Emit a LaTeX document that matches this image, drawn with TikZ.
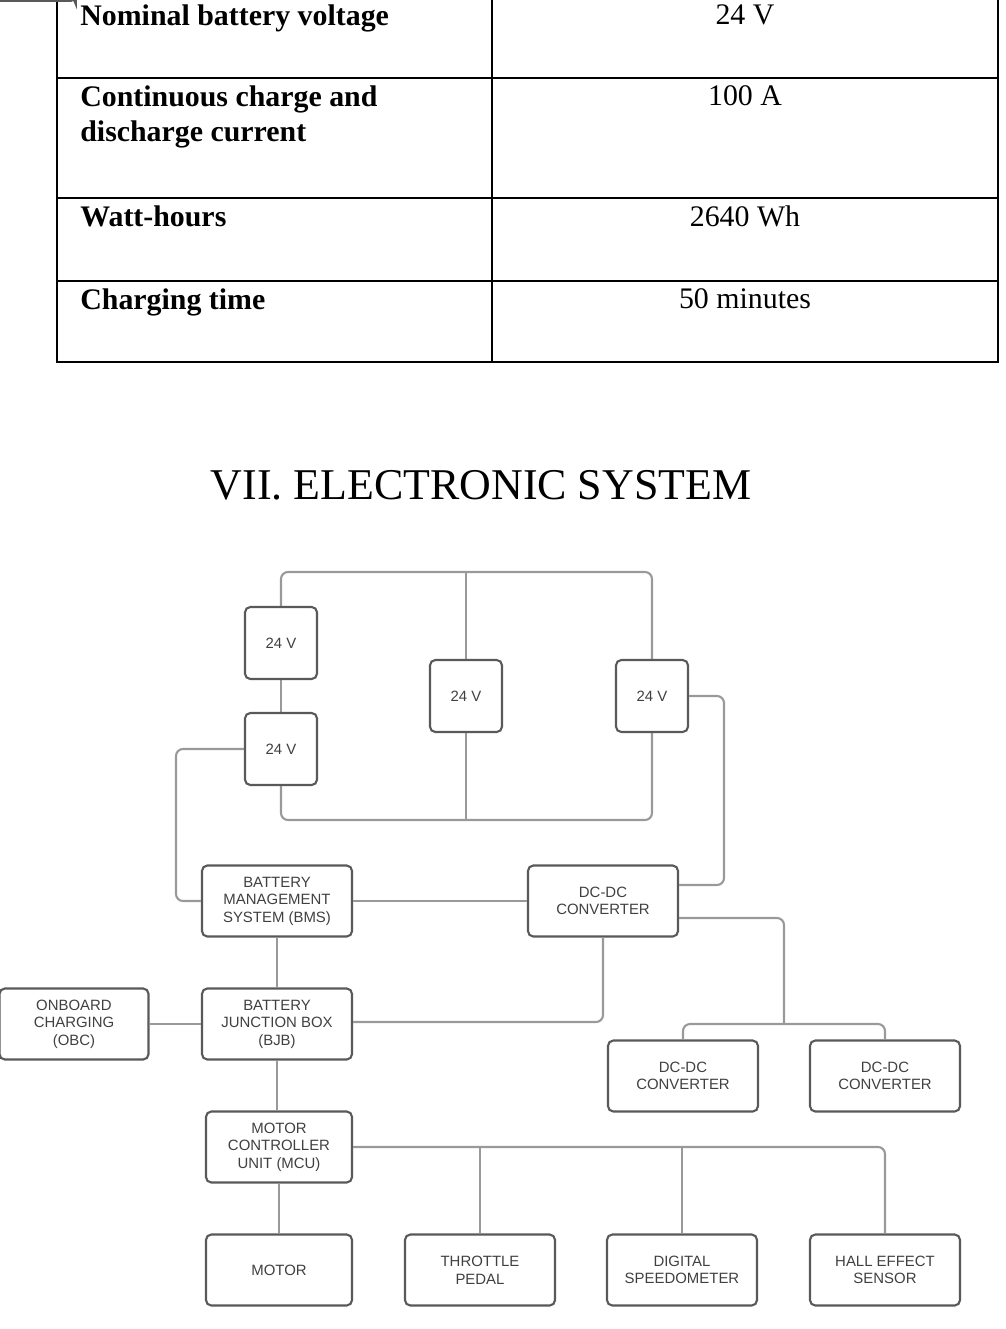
\documentclass[tikz,border=0pt]{standalone}
\usepackage{fontspec}
\setmainfont{Liberation Serif}
\newfontfamily\diag{Liberation Sans}
\begin{document}
\begin{tikzpicture}[x=0.02cm,y=-0.02cm,
  bx/.style={draw=black!65,line width=1.2pt,rounded corners=3pt,fill=white,align=center,font=\diag\fontsize{8.5}{10}\selectfont,text=black!75,inner sep=0pt},
  wire/.style={draw=black!40,line width=1.2pt,rounded corners=4pt},
  tl/.style={line width=1pt},
  lab/.style={anchor=north west,font=\bfseries\fontsize{17}{20}\selectfont,align=left,inner sep=0pt},
  val/.style={anchor=north,font=\fontsize{17}{20}\selectfont,inner sep=0pt}]
\useasboundingbox (0,0) rectangle (1006,1329);
% table
\draw[tl] (57,0) -- (57,362) -- (998,362) -- (998,0);
\draw[tl] (492,0) -- (492,362);
\foreach \y in {78,198,281} \draw[tl] (57,\y) -- (998,\y);
\node[lab] (l1) at (80,4) {Nominal battery voltage};
\node[val] (v1) at (745,4) {24 V};
\node[lab] (l2) at (80,85) {Continuous charge and\\discharge current};
\node[val] (v2) at (745,85) {100 A};
\node[lab] (l3) at (80,205) {Watt-hours};
\node[val] (v3) at (745,205) {2640 Wh};
\node[lab] (l4) at (80,288) {Charging time};
\node[val] (v4) at (745,288) {50 minutes};
\node[font=\fontsize{25}{30}\selectfont] (h) at (481,485) {VII. ELECTRONIC SYSTEM};
% wires first
\draw[wire] (281,643) -- (281,572) -- (652,572) -- (652,696);
\draw[wire] (466,572) -- (466,696);
\draw[wire] (281,749) -- (281,820) -- (652,820) -- (652,696);
\draw[wire] (466,696) -- (466,820);
\draw[wire] (281,643) -- (281,749);
% boxes
\node[bx,minimum width=72\pgflinewidth] at (0,0) {};
\node[bx,minimum width=1.44cm,minimum height=1.44cm] (b1) at (281,643) {24 V};
\node[bx,minimum width=1.44cm,minimum height=1.44cm] (b2) at (281,749) {24 V};
\node[bx,minimum width=1.44cm,minimum height=1.44cm] (b3) at (466,696) {24 V};
\node[bx,minimum width=1.44cm,minimum height=1.44cm] (b4) at (652,696) {24 V};
\tikzset{big/.style={bx,minimum width=3cm,minimum height=1.42cm}}
\node[big] (bms) at (277,901) {BATTERY\\MANAGEMENT\\SYSTEM (BMS)};
\node[big] (dc) at (603,901) {DC-DC\\CONVERTER};
\node[big,minimum width=2.98cm] (obc) at (74,1024) {ONBOARD\\CHARGING\\(OBC)};
\node[big] (bjb) at (277,1024) {BATTERY\\JUNCTION BOX\\(BJB)};
\node[big] (dc2) at (683,1076) {DC-DC\\CONVERTER};
\node[big] (dc3) at (885,1076) {DC-DC\\CONVERTER};
\node[big,minimum width=2.92cm] (mcu) at (279,1147) {MOTOR\\CONTROLLER\\UNIT (MCU)};
\node[big,minimum width=2.92cm] (mot) at (279,1270) {MOTOR};
\node[big] (thr) at (480,1270) {THROTTLE\\PEDAL};
\node[big] (dig) at (682,1270) {DIGITAL\\SPEEDOMETER};
\node[big] (hall) at (885,1270) {HALL EFFECT\\SENSOR};
% connectors
\draw[wire] (b2.west) -- (176,749) -- (176,901) -- (bms.west);
\draw[wire] (b4.east) -- (724,696) -- (724,885) -- (dc.east |- 0,885);
\draw[wire] (bms.east) -- (dc.west);
\draw[wire] (bms.south) -- (bjb.north);
\draw[wire] (obc.east) -- (bjb.west);
\draw[wire] (dc.south) -- (603,1022) -- (bjb.east |- 0,1022);
\draw[wire] (dc.east |- 0,918) -- (784,918) -- (784,1024);
\draw[wire] (dc2.north) -- (683,1024) -- (885,1024) -- (dc3.north);
\draw[wire] (bjb.south) -- (bjb.south |- mcu.north);
\draw[wire] (mcu.south) -- (mot.north);
\draw[wire] (mcu.east) -- (885,1147) -- (hall.north);
\draw[wire] (thr.north) -- (480,1147);
\draw[wire] (dig.north) -- (682,1147);
\end{tikzpicture}
\end{document}
